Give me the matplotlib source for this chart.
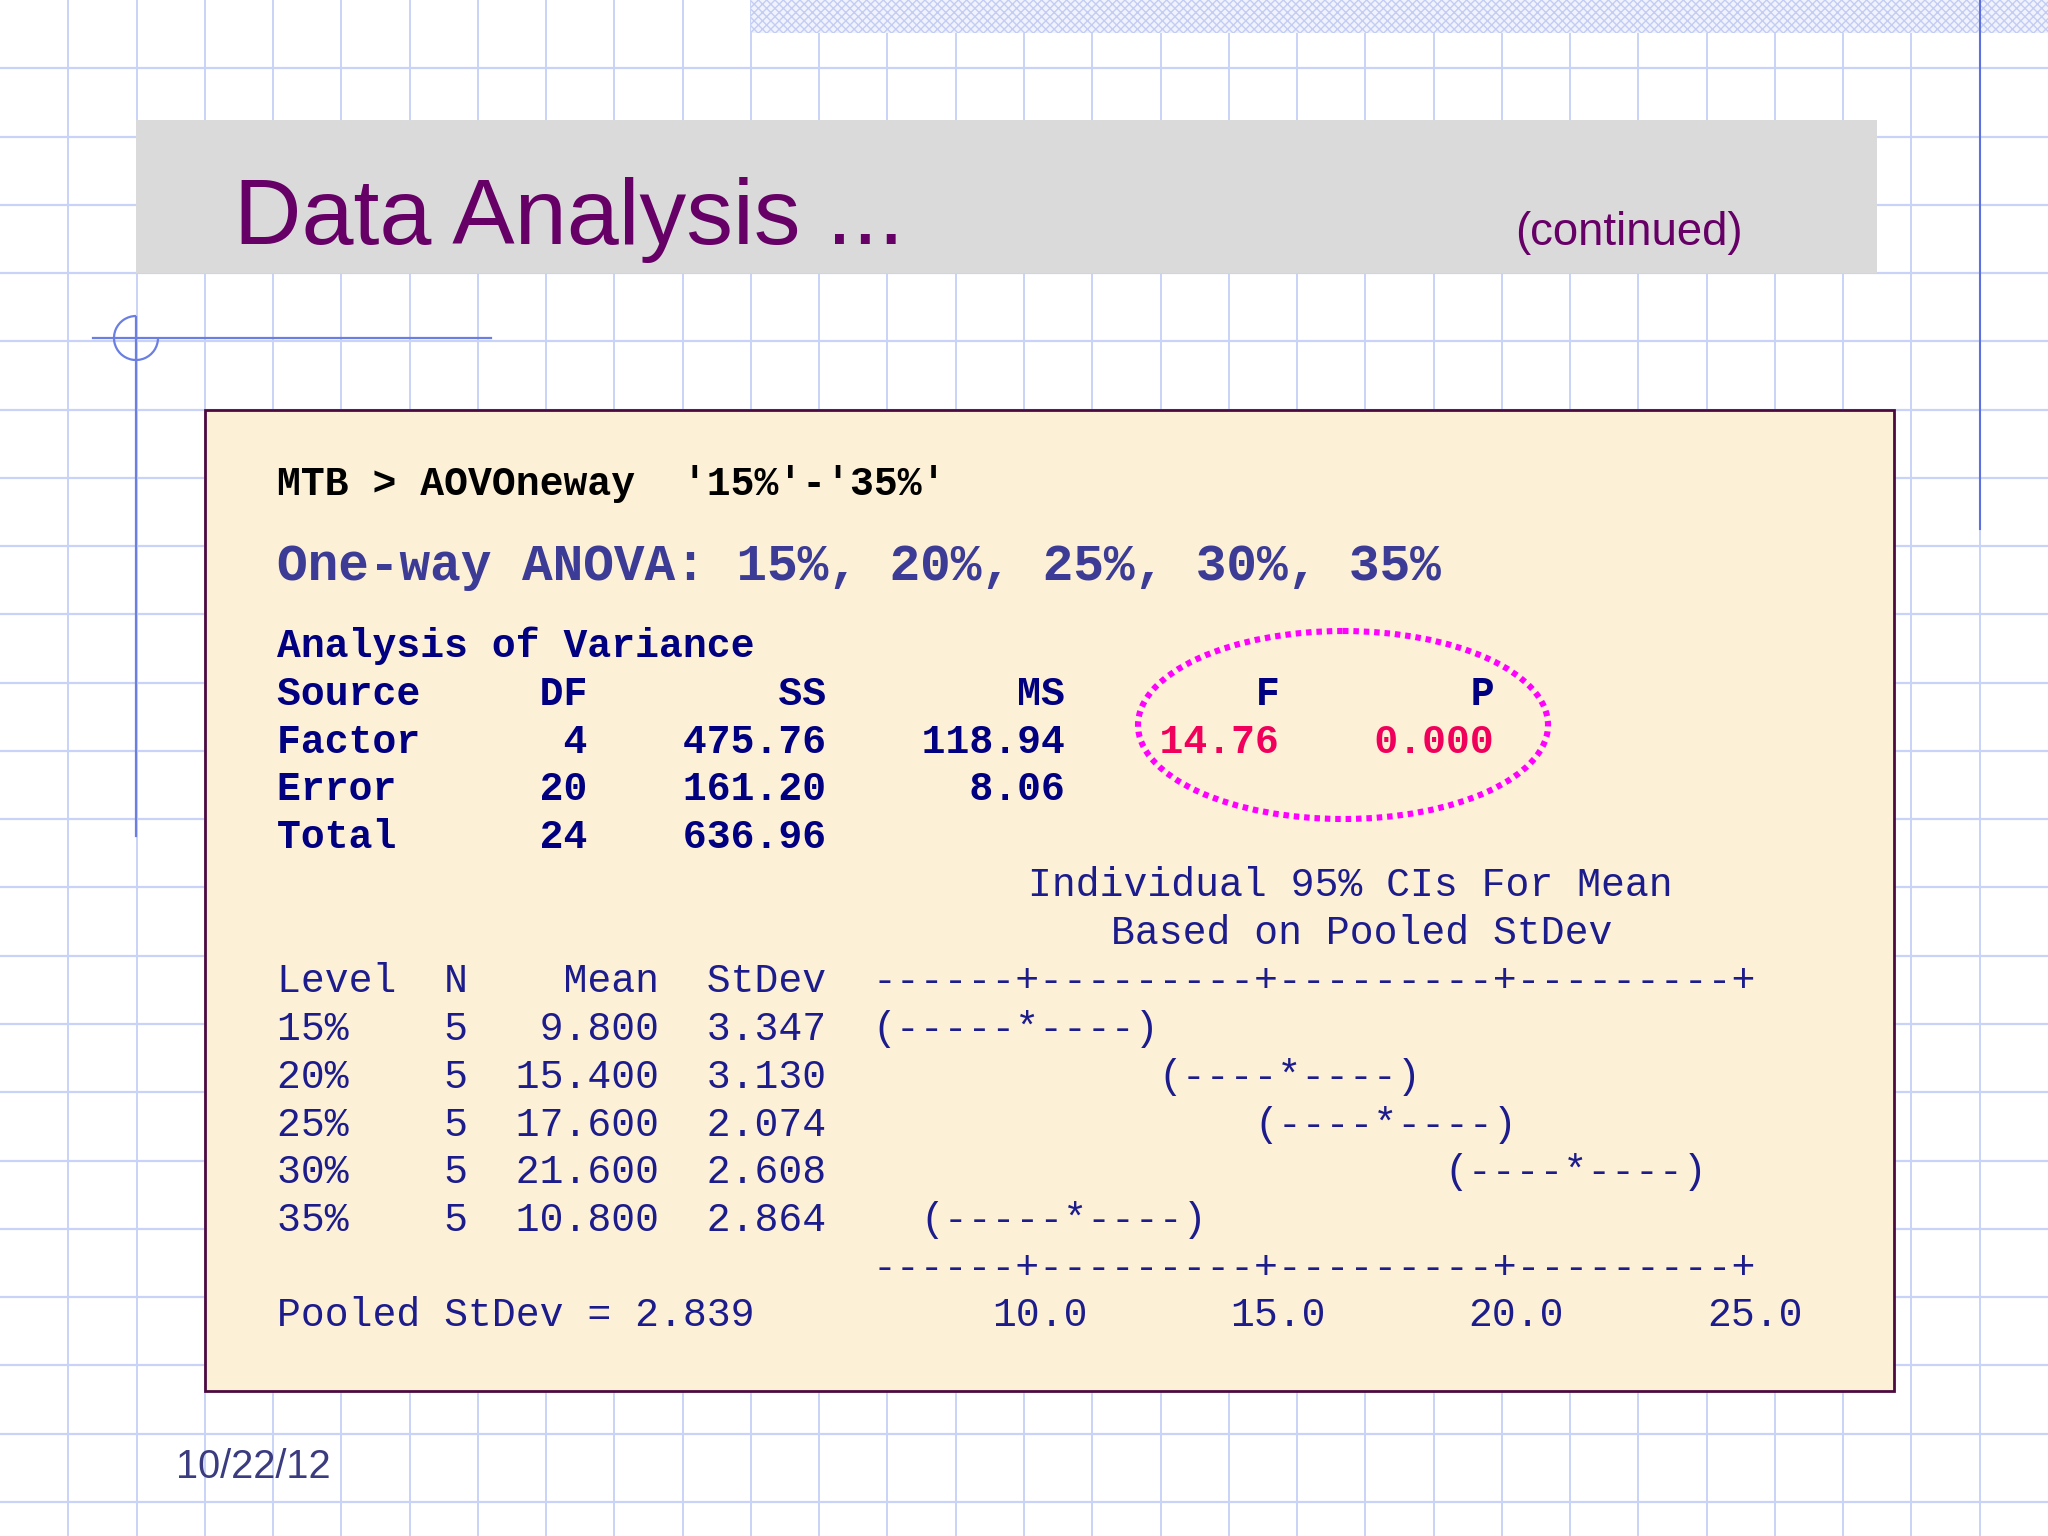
import numpy as np
import matplotlib.pyplot as plt
from matplotlib.patches import Rectangle, Ellipse, Arc

# ANOVA table (Minitab output)
sources = ['Factor', 'Error', 'Total']
dfs = [4, 20, 24]
ss = [475.76, 161.20, 636.96]
ms = [118.94, 8.06, None]
f_value = 14.76
p_value = 0.000

# per-level summary
levels = ['15%', '20%', '25%', '30%', '35%']
n_obs = [5, 5, 5, 5, 5]
means = [9.800, 15.400, 17.600, 21.600, 10.800]
stdevs = [3.347, 3.130, 2.074, 2.608, 2.864]
pooled_sd = 2.839
scale_ticks = [10.0, 15.0, 20.0, 25.0]
t_crit = 2.086  # t(0.975, df=20)

W, H = 2048, 1536
fig = plt.figure(figsize=(20.48, 15.36), dpi=100)
ax = fig.add_axes([0, 0, 1, 1])
ax.set_xlim(0, W)
ax.set_ylim(H, 0)
ax.axis('off')

# graph paper background
step = W / 30
for k in range(1, 30):
    ax.axvline(k * step, color='#c9d3f7', lw=1.4, zorder=0)
for k in range(1, 23):
    ax.axhline(k * step, color='#c9d3f7', lw=1.6, zorder=0)
plt.rcParams['hatch.linewidth'] = 1.0
ax.add_patch(Rectangle((751, 0), W - 751, 33, facecolor='#f1f3fc', hatch='xxxx',
                       edgecolor='#c3ccf3', lw=0, zorder=1))
ax.plot([29 * step, 29 * step], [0, 529], color='#5c70e0', lw=1.5, zorder=2)

# title banner
ax.add_patch(Rectangle((136, 120), 1741, 153, facecolor='#dadada', lw=0, zorder=2))
ax.text(234, 244, 'Data Analysis ...', family='Liberation Sans', fontsize=67.3,
        color='#660066', va='baseline', zorder=3)
ax.text(1515, 245, '(continued)', family='Liberation Sans', fontsize=32.8,
        color='#660066', va='baseline', zorder=3)

# crosshair ornament
blue = '#6b7fe3'
ax.plot([93, 491], [338, 338], color=blue, lw=1.6, zorder=3)
ax.plot([136, 136], [317, 836], color=blue, lw=1.6, zorder=3)
ax.add_patch(Arc((136, 338), 44, 44, theta1=0, theta2=270, color=blue, lw=1.6, zorder=3))

# output panel
ax.add_patch(Rectangle((205, 410), 1689, 981, facecolor='#fcf0d6',
                       edgecolor='#4d0a40', lw=2, zorder=4))

mono = 'Liberation Mono'
fs = 28.6
cw = 0.6 * fs * 100 / 72
x0 = 277
navy = '#000080'
red = '#f0005a'


def put(col, y, s, color=navy, weight='normal', size=fs):
    ax.text(x0 + col * cw, y, s, family=mono, fontsize=size, color=color,
            fontweight=weight, va='baseline', ha='left', zorder=5)


put(0, 495, "MTB > AOVOneway  '15%'-'35%'", color='black', weight='bold')
put(0, 580, 'One-way ANOVA: ' + ', '.join(levels), color='#3c3c96', weight='bold', size=36.8)
put(0, 657, 'Analysis of Variance', weight='bold')

put(0, 705, f"{'Source':<6}{'DF':>7}{'SS':>10}{'MS':>10}{'F':>9}{'P':>9}", weight='bold')
row_y = [753, 800, 848]
for src, d, s, m, y in zip(sources, dfs, ss, ms, row_y):
    line = f"{src:<6}{d:>7}{s:>10.2f}"
    if m is not None:
        line += f"{m:>10.2f}"
    put(0, y, line, weight='bold')
put(33, row_y[0], f"{f_value:>9.2f}{p_value:>9.3f}", color=red, weight='bold')

ax.add_patch(Ellipse((1343, 725), 410, 188, fill=False, edgecolor='#ff00ff',
                     lw=4.4, linestyle=(0, (0.9, 0.8)), zorder=6))

# character-chart of 95% CIs
lower = '#1c1c8c'
scale_col0, scale_lo, cols_per_unit = 25, 7.0, 2


def col_of(v):
    return scale_col0 + cols_per_unit * (v - scale_lo)


def rnd(x):
    return int(np.floor(x + 0.5))


tick_cols = [rnd(col_of(t)) for t in scale_ticks]
scale_line = ''.join('+' if c in tick_cols else '-' for c in range(scale_col0, tick_cols[-1] + 1))

put(31.5, 896, 'Individual 95% CIs For Mean', color=lower)
put(35, 944, 'Based on Pooled StDev', color=lower)
put(0, 992, f"{'Level':<7}{'N':<1}{'Mean':>8}{'StDev':>7}", color=lower)
put(scale_col0, 992, scale_line, color=lower)

ys = [1040, 1088, 1136, 1183, 1231]
for lvl, n, m, sd, y in zip(levels, n_obs, means, stdevs, ys):
    put(0, y, f"{lvl:<7}{n:<1}{m:>8.3f}{sd:>7.3f}", color=lower)
    half = t_crit * pooled_sd / np.sqrt(n)
    lo, hi, mid = rnd(col_of(m - half)), rnd(col_of(m + half)), rnd(col_of(m))
    ci = ''.join('(' if c == lo else ')' if c == hi else '*' if c == mid else '-'
                 for c in range(lo, hi + 1))
    put(lo, y, ci, color=lower)

put(scale_col0, 1279, scale_line, color=lower)
put(0, 1326, f'Pooled StDev = {pooled_sd:.3f}', color=lower)
for t, c in zip(scale_ticks, tick_cols):
    put(c - 1, 1326, f'{t:.1f}', color=lower)

# footer date
ax.text(176, 1478, '10/22/12', family='Liberation Sans', fontsize=28.6,
        color='#3b3b80', va='baseline', zorder=3)

fig.savefig('out.png', dpi=100)
